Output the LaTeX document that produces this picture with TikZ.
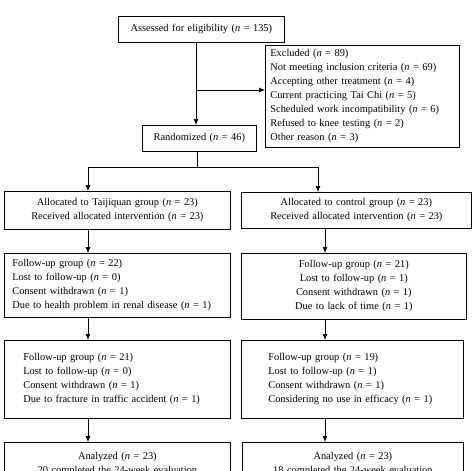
\documentclass[tikz,border=0pt]{standalone}
\usepackage{fontspec}
\setmainfont{Liberation Serif}
\usetikzlibrary{arrows.meta}
\usetikzlibrary{calc}

\newcommand{\ncount}[1]{(\textit{n} = #1)}

\begin{document}
\begin{tikzpicture}[x=1pt, y=-1pt,
  box/.style={draw, line width=0.7pt, anchor=north west, inner ysep=0pt,
    font=\fontsize{10.4}{14}\selectfont},
  flow/.style={-{Latex[length=6pt,width=5pt]}, line width=0.7pt}]
% Fix the page size
\useasboundingbox (0,0) rectangle (474,471);
\clip (0,0) rectangle (474,471);

% Define coordinates
\coordinate (spine) at (196,90); % branch to the excluded box
\coordinate (colM) at (197,0);   % below the randomized box
\coordinate (colL) at (88,0);    % left arm
\coordinate (colR) at (318,0);   % right arm (allocation)
\coordinate (colR2) at (325,0);  % right arm (follow-up)

% Enrollment
\node[box, align=center, text width=166pt, inner xsep=0pt, minimum height=26pt] (assess) at (118,16) {Assessed for eligibility \ncount{135}};
\node[box, align=left, text width=184pt, inner xsep=5pt, minimum height=102pt] (excl) at (265,45)
  {Excluded \ncount{89}\\ Not meeting inclusion criteria \ncount{69}\\ Accepting other treatment \ncount{4}\\
   Current practicing Tai Chi \ncount{5}\\ Scheduled work incompatibility \ncount{6}\\
   Refused to knee testing \ncount{2}\\ Other reason \ncount{3}};
\node[box, align=center, text width=114pt, inner xsep=0pt, minimum height=26pt] (rand) at (142,125) {Randomized \ncount{46}};

% Allocation
\node[box, align=center, text width=226pt, inner xsep=0pt, minimum height=38pt] (allocT) at (4,191)
  {Allocated to Taijiquan group \ncount{23}\\ Received allocated intervention \ncount{23}};
\node[box, align=center, text width=230pt, inner xsep=0pt, minimum height=36pt] (allocC) at (241,192)
  {Allocated to control group \ncount{23}\\ Received allocated intervention \ncount{23}};

% First follow-up
\node[box, align=left, text width=210pt, inner xsep=8pt, minimum height=64pt] (fuT) at (4,253)
  {Follow-up group \ncount{22}\\ Lost to follow-up \ncount{0}\\ Consent withdrawn \ncount{1}\\
   Due to health problem in renal disease \ncount{1}};
\node[box, align=center, text width=225pt, inner xsep=0pt, minimum height=66pt] (fuC) at (241,253)
  {Follow-up group \ncount{21}\\ Lost to follow-up \ncount{1}\\ Consent withdrawn \ncount{1}\\
   Due to lack of time \ncount{1}};

% Second follow-up
\node[box, align=left, text width=188pt, inner xsep=19pt, minimum height=78pt] (fuTT) at (4,340)
  {Follow-up group \ncount{21}\\ Lost to follow-up \ncount{0}\\ Consent withdrawn \ncount{1}\\
   Due to fracture in traffic accident \ncount{1}};
\node[box, align=left, text width=168pt, inner xsep=27pt, minimum height=78pt] (fuCC) at (241,340)
  {Follow-up group \ncount{19}\\ Lost to follow-up \ncount{1}\\ Consent withdrawn \ncount{1}\\
   Considering no use in efficacy \ncount{1}};

% Analysis (cut by the page edge)
\node[box, align=center, text width=226pt, inner xsep=0pt, inner ysep=1pt, minimum height=40pt] (anT) at (4,442)
  {\strut Analyzed \ncount{23}\\ 20 completed the 24-week evaluation};
\node[box, align=center, text width=221pt, inner xsep=0pt, inner ysep=1pt, minimum height=40pt] (anC) at (242,442)
  {\strut Analyzed \ncount{23}\\ 18 completed the 24-week evaluation};

% Connectors
\draw[flow] (assess.south -| spine) -- (rand.north -| spine);
\draw[flow] (spine) -- (spine -| excl.west);
\draw (rand.south -| colM) -- ++(0,16) coordinate (split);
\draw[flow] (split) -| (allocT.north -| colL);
\draw[flow] (split) -| (allocC.north -| colR);
\draw[flow] (allocT.south -| colL) -- (fuT.north -| colL);
\draw[flow] (allocC.south -| colR2) -- (fuC.north -| colR2);
\draw[flow] (fuT.south -| colL) -- (fuTT.north -| colL);
\draw[flow] (fuC.south -| colR2) -- (fuCC.north -| colR2);
\draw[flow] (fuTT.south -| colL) -- (anT.north -| colL);
\draw[flow] (fuCC.south -| colR2) -- (anC.north -| colR2);

\end{tikzpicture}
\end{document}
